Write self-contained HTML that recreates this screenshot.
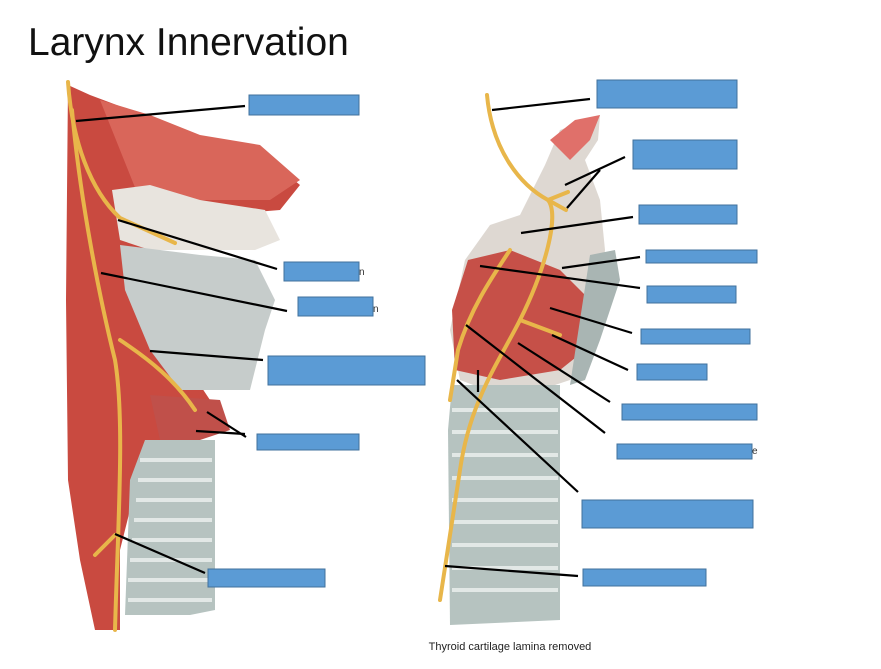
<!DOCTYPE html>
<html><head><meta charset="utf-8"><style>
body{margin:0;background:#fff;width:881px;height:664px;overflow:hidden;font-family:"Liberation Sans",sans-serif}
</style></head><body>
<svg width="881" height="664" viewBox="0 0 881 664" xmlns="http://www.w3.org/2000/svg">
<text x="28" y="55" font-family="Liberation Sans, sans-serif" font-size="39" fill="#111">Larynx Innervation</text>
<path d="M68,85 L90,95 L130,110 L180,140 L230,150 L270,160 L300,185 L280,210 L220,215 L160,230 L150,290 L190,370 L210,400 L220,420 L170,430 L140,470 L120,550 L120,630 L95,630 L80,560 L68,480 L66,300 Z" fill="#c94a40"/>
<path d="M100,100 L150,115 L200,135 L260,145 L300,180 L270,200 L200,200 L140,200 Z" fill="#d9665a"/>
<path d="M112,190 L150,185 L200,200 L265,210 L280,240 L255,250 L200,250 L150,250 L120,240 Z" fill="#e8e4de"/>
<path d="M120,245 L200,255 L255,260 L275,300 L265,330 L250,390 L180,390 L150,350 L125,290 Z" fill="#c6cccb"/>
<path d="M150,395 L220,400 L230,430 L200,440 L160,440 Z" fill="#c0504a"/>
<path d="M145,440 L215,440 L215,610 L190,615 L125,615 L130,480 Z" fill="#b6c3c0"/>
<g stroke="#e2e8e6" stroke-width="4" fill="none">
<path d="M140,460 H212 M138,480 H212 M136,500 H212 M134,520 H212 M132,540 H212 M130,560 H212 M128,580 H212 M128,600 H212"/></g>
<g stroke="#e8b64a" stroke-width="4" fill="none" stroke-linecap="round">
<path d="M68,82 C72,140 90,190 120,218 L175,243"/>
<path d="M72,110 C80,200 100,300 115,360 C125,420 118,520 115,630"/>
<path d="M120,340 C150,360 175,380 195,410"/>
<path d="M115,535 L95,555"/>
</g>
<path d="M560,130 L600,115 L598,140 L585,160 L600,200 L605,250 L600,290 L590,330 L570,380 L540,390 L500,395 L460,380 L450,330 L465,260 L490,225 L520,215 L545,165 Z" fill="#ded8d2"/>
<path d="M468,260 L510,250 L560,270 L590,300 L585,350 L560,370 L500,380 L455,370 L452,310 Z" fill="#c65048"/>
<path d="M550,140 L575,120 L600,115 L590,140 L570,160 Z" fill="#e0706a"/>
<path d="M590,255 L615,250 L620,280 L600,340 L585,380 L570,385 Z" fill="#a9b5b3"/>
<path d="M452,385 L560,385 L560,620 L450,625 L448,430 Z" fill="#b6c3c0"/>
<g stroke="#e2e8e6" stroke-width="4" fill="none">
<path d="M452,410 H558 M452,432 H558 M452,455 H558 M452,478 H558 M452,500 H558 M452,522 H558 M452,545 H558 M452,568 H558 M452,590 H558"/></g>
<g stroke="#e8b64a" stroke-width="4" fill="none" stroke-linecap="round">
<path d="M487,95 C492,150 520,185 548,200 C560,215 545,270 520,320 C500,360 470,400 460,470 L440,600"/>
<path d="M548,200 L568,192 M548,200 L566,210"/>
<path d="M510,250 C490,280 470,310 458,350 L450,400"/>
<path d="M520,320 L560,335"/>
</g>
<g stroke="#000" stroke-width="2.2" fill="none">
<line x1="76" y1="121" x2="245" y2="106"/>
<line x1="118" y1="220" x2="277" y2="269"/>
<line x1="101" y1="273" x2="287" y2="311"/>
<line x1="150" y1="351" x2="263" y2="360"/>
<line x1="207" y1="412" x2="246" y2="437"/>
<line x1="196" y1="431" x2="245" y2="434"/>
<line x1="115" y1="534" x2="205" y2="573"/>
<line x1="492" y1="110" x2="590" y2="99"/>
<line x1="565" y1="185" x2="625" y2="157"/>
<line x1="567" y1="208" x2="600" y2="170"/>
<line x1="521" y1="233" x2="633" y2="217"/>
<line x1="562" y1="268" x2="640" y2="257"/>
<line x1="480" y1="266" x2="640" y2="288"/>
<line x1="550" y1="308" x2="632" y2="333"/>
<line x1="552" y1="335" x2="628" y2="370"/>
<line x1="518" y1="343" x2="610" y2="402"/>
<line x1="466" y1="325" x2="605" y2="433"/>
<line x1="478" y1="370" x2="478" y2="392"/>
<line x1="457" y1="380" x2="578" y2="492"/>
<line x1="445" y1="566" x2="578" y2="576"/>
</g>
<g fill="#5b9bd5" stroke="#41719c" stroke-width="1">
<rect x="249" y="95" width="110" height="20"/>
<rect x="284" y="262" width="75" height="19"/>
<rect x="298" y="297" width="75" height="19"/>
<rect x="268" y="356" width="157" height="29"/>
<rect x="257" y="434" width="102" height="16"/>
<rect x="208" y="569" width="117" height="18"/>
<rect x="597" y="80" width="140" height="28"/>
<rect x="633" y="140" width="104" height="29"/>
<rect x="639" y="205" width="98" height="19"/>
<rect x="646" y="250" width="111" height="13"/>
<rect x="647" y="286" width="89" height="17"/>
<rect x="641" y="329" width="109" height="15"/>
<rect x="637" y="364" width="70" height="16"/>
<rect x="622" y="404" width="135" height="16"/>
<rect x="617" y="444" width="135" height="15"/>
<rect x="582" y="500" width="171" height="28"/>
<rect x="583" y="569" width="123" height="17"/>
</g>
<text x="359" y="275" font-size="10" fill="#333">n</text>
<text x="373" y="312" font-size="10" fill="#333">n</text>
<text x="752" y="454" font-size="10" fill="#333">e</text>
<text x="510" y="650" font-size="11" fill="#222" text-anchor="middle">Thyroid cartilage lamina removed</text>
</svg>
</body></html>
